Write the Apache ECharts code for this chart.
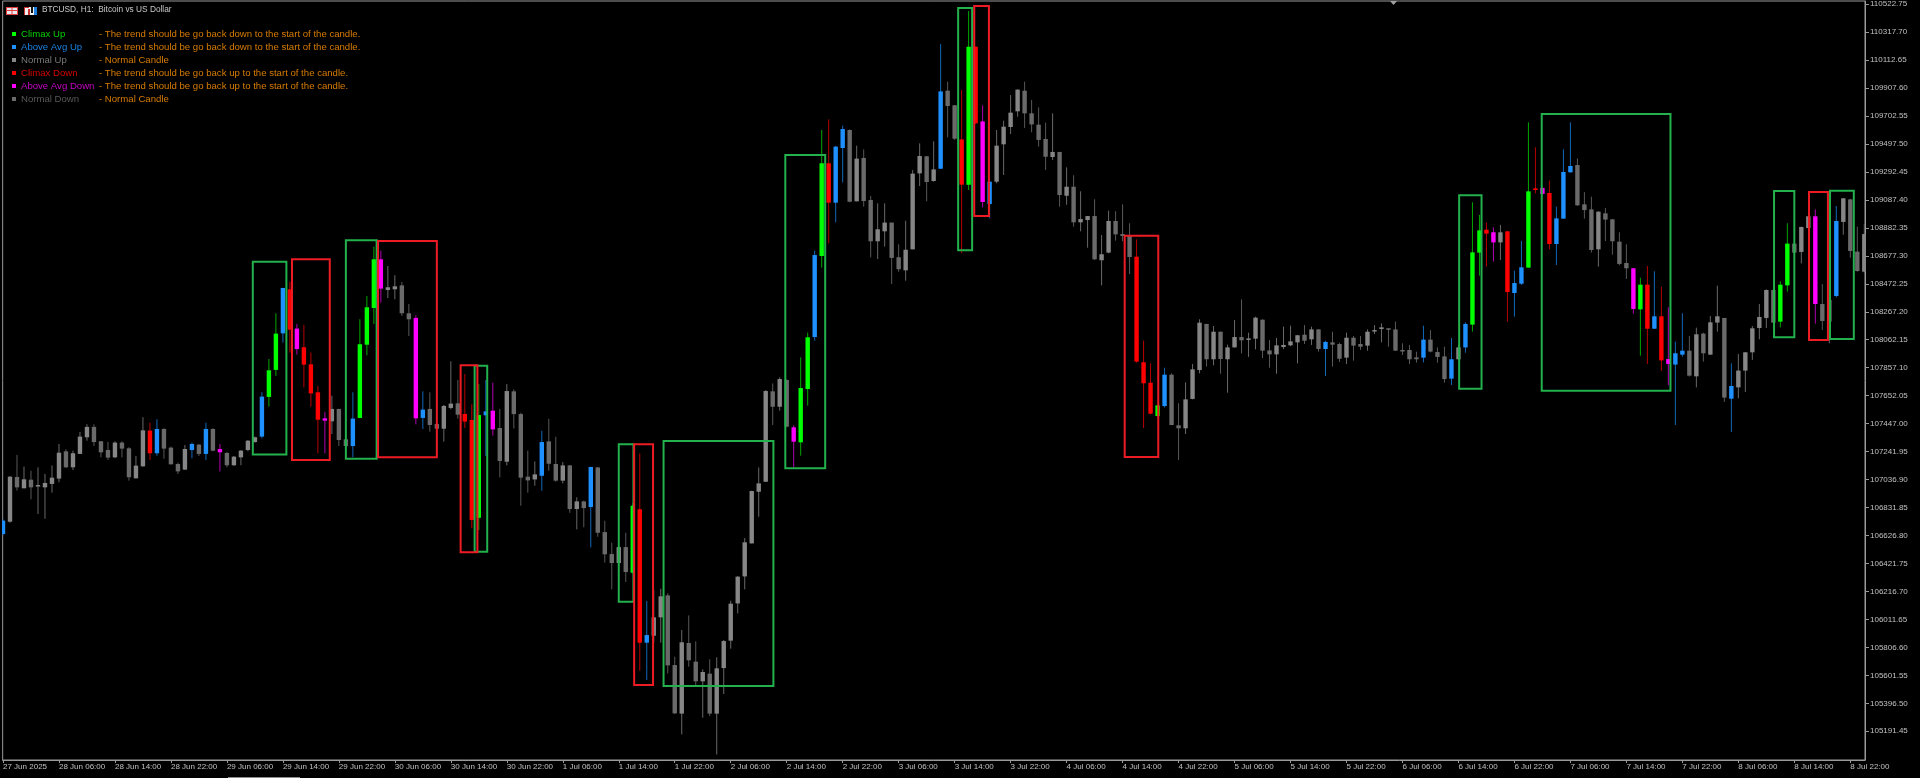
<!DOCTYPE html>
<html><head><meta charset="utf-8"><style>html,body{margin:0;padding:0;background:#000;overflow:hidden}#c{width:1920px;height:778px}</style>
<script src="https://cdn.jsdelivr.net/npm/echarts@6/dist/echarts.min.js"></script></head><body><div id="c"></div>
<script>
// rows: [bar, open, close, low, high]
const climaxUp=[[38,107643,107838,107572,107921],[39,107841,108107,107797,108256],[51,107489,108029,107486,108212],[52,108026,108300,107948,108383],[53,108295,108652,108178,108745],[68,106757,107510,106667,107737],[90,106354,106845,106349,106863],[114,107310,107708,107212,107933],[115,107701,108080,107579,108114],[117,108676,109356,108591,109600],[138,109199,110211,109160,110472],[165,107503,107581,107498,107586],[210,108173,108703,108122,109070],[211,108701,108864,108532,108977],[218,108591,109150,108591,109656],[234,108285,108466,107945,108517],[254,108195,108466,108153,108491],[255,108461,108767,108415,108916]];
const aboveAvgUp=[[0,106638,106736,106630,106745],[22,107230,107408,107212,107479],[27,107254,107298,107193,107308],[29,107225,107408,107181,107454],[37,107352,107645,107340,107677],[40,108109,108442,108041,108442],[50,107283,107484,107200,107677],[60,107489,107550,107408,107684],[69,107508,107537,107210,107767],[77,107065,107312,106955,107395],[84,106836,107129,106540,107131],[92,105841,105897,105567,106147],[116,108082,108683,108055,108715],[119,109067,109478,108923,109483],[120,109468,109607,109216,109632],[134,109316,109883,109314,110230],[141,109057,109221,108952,109221],[166,107576,107806,107566,107857],[189,107994,108046,107796,108055],[203,107931,108063,107896,108165],[207,107777,107919,107730,108075],[209,108006,108178,107967,108190],[216,108405,108478,108232,108569],[217,108473,108593,108464,108786],[222,108764,108952,108610,109038],[223,108950,109292,108950,109458],[224,109290,109336,109287,109656],[236,108143,108234,108141,108564],[239,107880,107963,107437,108048],[240,107953,107982,107938,108256],[247,107630,107723,107386,107889],[262,108383,108933,108373,109043]];
const normalUp=[[1,106728,107058,106721,107063],[3,106973,107039,106973,107132],[5,106990,106997,106785,107127],[6,106980,107012,106750,107078],[7,107005,107051,106941,107141],[8,107044,107234,107017,107298],[10,107127,107230,107107,107249],[11,107225,107352,107225,107386],[12,107347,107423,107322,107442],[16,107200,107308,107195,107318],[19,107046,107139,107046,107210],[20,107134,107398,107132,107494],[26,107110,107261,107107,107291],[33,107142,107205,107137,107210],[34,107200,107249,107142,107254],[35,107254,107322,107244,107327],[36,107312,107347,107308,107352],[47,107464,107555,107371,107652],[55,108427,108447,108368,108603],[56,108432,108454,108359,108535],[63,107410,107577,107315,107584],[64,107562,107594,107552,107904],[72,107168,107686,107141,107737],[76,107038,107075,106992,107170],[80,107029,107141,107009,107166],[82,106821,106877,106672,106907],[88,106425,106542,106423,106545],[93,105892,106027,105841,106227],[94,106027,106181,105841,106237],[97,105321,105844,105169,105934],[100,105558,105626,105291,105646],[102,105321,105653,105022,105734],[103,105655,105853,105465,105861],[104,105856,106127,105797,106149],[105,106129,106325,106056,106330],[106,106327,106577,106232,106608],[107,106569,106953,106569,106955],[108,106948,107009,106765,107126],[109,107021,107686,107019,107693],[111,107571,107774,107542,107786],[122,109077,109390,109077,109485],[125,108784,108872,108654,109062],[126,108857,108921,108745,109062],[129,108571,108722,108495,108935],[130,108725,109280,108725,109307],[131,109282,109409,109189,109502],[133,109226,109311,109221,109517],[142,109221,109485,109209,109600],[143,109495,109624,109270,109668],[144,109622,109727,109571,109856],[145,109737,109896,109698,109898],[150,109402,109439,109380,109722],[152,109118,109184,109052,109326],[154,108923,108947,108857,109150],[155,108940,108969,108737,108969],[157,108645,108689,108461,108830],[158,108701,108933,108696,109009],[169,107413,107625,107371,107750],[170,107628,107845,107625,107884],[171,107840,108187,107816,108212],[173,107919,108121,107875,108163],[175,107919,108006,107674,108026],[176,108006,108082,108006,108207],[178,108065,108072,107936,108114],[179,108070,108224,107992,108231],[182,107955,108021,107813,108075],[183,108009,108024,107994,108158],[184,108021,108050,108016,108165],[185,108043,108095,107889,108097],[187,108065,108138,108024,108158],[192,107931,108077,107884,108114],[195,108019,108121,107982,108138],[196,108124,108133,108104,108170],[197,108141,108153,108043,108182],[208,107919,108006,107914,108024],[214,108776,108850,108647,108904],[228,108725,109001,108598,109004],[242,107794,108102,107713,108151],[244,107953,108190,107950,108236],[245,108188,108234,108122,108459],[248,107713,107836,107633,107958],[249,107836,107970,107679,107972],[250,107970,108146,107914,108163],[251,108148,108229,108065,108324],[252,108222,108427,108148,108432],[257,108706,108889,108622,108891],[258,108881,108967,108879,108970],[261,108195,108354,108036,108488],[263,108926,109099,108832,109101],[266,108561,108837,108554,108911]];
const climaxDown=[[21,107396,107230,107181,107454],[41,108432,108136,107968,108488],[43,108007,107880,107713,108171],[44,107882,107669,107572,107968],[45,107677,107476,107230,107723],[66,107518,107462,107415,107811],[67,107474,106741,106680,107589],[91,106819,105841,105636,107229],[118,109356,109067,108769,109678],[137,109531,109199,108696,109893],[139,110211,109649,109644,110211],[162,108671,107902,107894,108798],[163,107897,107743,107415,108055],[164,107747,107520,107515,107889],[212,108869,108840,108598,108921],[215,108857,108412,108195,108860],[219,109172,109160,109136,109473],[221,109138,108764,108725,109229],[235,108466,108143,107884,108603],[237,108234,107911,107833,108451]];
const aboveAvgDown=[[31,107261,107237,107097,107298],[42,108144,107994,107953,108178],[46,107486,107469,107230,107533],[54,108652,108437,108334,108715],[59,108222,107486,107442,108241],[70,107542,107405,107359,107747],[113,107420,107315,107126,107435],[140,109663,109072,109033,109781],[213,108850,108776,108635,108886],[220,109175,109131,109126,109180],[233,108586,108288,108253,108588],[238,107921,107884,107728,108300],[259,108967,108324,108180,109018]];
const normalDown=[[2,107056,106980,106956,107217],[4,107036,106980,106892,107102],[9,107244,107127,107122,107259],[13,107423,107312,107283,107442],[14,107318,107237,107200,107320],[15,107254,107198,107181,107313],[17,107308,107264,107200,107318],[18,107266,107054,107029,107274],[23,107408,107264,107190,107413],[24,107271,107149,107147,107279],[25,107151,107097,107078,107161],[28,107293,107225,107210,107298],[30,107408,107249,107244,107413],[32,107232,107142,107127,107239],[48,107555,107327,107283,107555],[49,107332,107283,107278,107401],[57,108461,108256,108236,108486],[58,108256,108212,108090,108324],[61,107555,107437,107388,107677],[62,107445,107410,107405,107449],[65,107596,107513,107484,107767],[71,107415,107173,107053,107554],[73,107684,107517,107412,107698],[74,107517,107051,106845,107527],[75,107058,107031,106941,107249],[78,107317,107153,107102,107483],[79,107151,107029,107021,107351],[81,107141,106821,106794,107144],[83,106877,106828,106687,106882],[85,107126,106647,106618,107129],[86,106652,106489,106428,106735],[87,106491,106425,106232,106574],[89,106542,106359,106286,106647],[95,106188,105675,105616,106203],[96,105677,105323,105318,105738],[98,105839,105712,105665,106041],[99,105702,105558,105518,105851],[101,105614,105321,105303,105719],[110,107684,107571,107437,107742],[112,107767,107425,107420,107772],[121,109600,109074,109070,109605],[123,109395,109079,109038,109458],[124,109087,108784,108666,109116],[127,108921,108662,108471,108921],[128,108667,108579,108561,108762],[132,109407,109219,109077,109409],[135,109888,109776,109546,109954],[136,109781,109536,109527,109783],[146,109888,109722,109615,109954],[147,109722,109641,109583,109820],[148,109639,109527,109478,109766],[149,109534,109404,109307,109654],[151,109439,109123,109038,109439],[153,109184,108923,108891,109268],[156,108969,108652,108647,109092],[159,108933,108835,108789,109004],[160,108837,108823,108784,109055],[161,108823,108669,108544,108916],[167,107806,107437,107435,107816],[168,107435,107413,107181,107596],[172,108178,107919,107865,108178],[174,108121,107921,107813,108121],[177,108082,108058,107962,108358],[180,108209,107982,107928,108212],[181,107984,107955,107857,108060],[186,108099,108055,108031,108170],[188,108138,107994,107975,108141],[190,108043,108026,107865,108121],[191,108031,107923,107899,108041],[193,108077,108019,107909,108090],[194,108031,108011,107987,108090],[198,108146,108141,108011,108146],[199,108138,107982,107980,108195],[200,107987,107980,107950,108036],[201,107987,107919,107884,108024],[202,107933,107919,107894,107975],[204,108063,107975,107970,108133],[205,107972,107936,107894,108006],[206,107940,107774,107747,108011],[225,109343,109048,109043,109392],[226,109055,109013,108950,109145],[227,109018,108720,108701,109111],[229,108989,108943,108786,109028],[230,108945,108784,108686,108948],[231,108781,108618,108608,108850],[232,108625,108586,108508,108762],[241,107982,107799,107792,108090],[243,108107,107963,107902,108114],[246,108222,107638,107606,108222],[253,108427,108188,108183,108432],[256,108767,108701,108696,108769],[260,108324,108200,108134,108471],[264,109091,108713,108664,109096],[265,108708,108566,108561,108891]];
// rows: [fromBar, toBar, priceTop, priceBottom]
const greenBoxes=[[35.7,40.5,108634,107220],[49,53.4,108791,107190],[67.4,69.2,107872,106508],[88,90.1,107296,106142],[94.4,110.1,107320,105524],[111.8,117.5,109417,107120],[136.5,138.5,110494,108718],[208.1,211.3,109121,107703],[219.9,238.3,109717,107689],[253.1,256,109153,108080],[261.1,264.5,109155,108068]];
const redBoxes=[[41.3,46.7,108652,107181],[53.6,62,108786,107201],[65.4,67.8,107875,106504],[90.2,92.9,107296,105531],[138.8,140.9,110509,108969],[160.3,165.1,108825,107203],[258.1,260.8,109145,108060]];
const priceTicks=[110522.75,110317.70,110112.65,109907.60,109702.55,109497.50,109292.45,109087.40,108882.35,108677.30,108472.25,108267.20,108062.15,107857.10,107652.05,107447.00,107241.95,107036.90,106831.85,106626.80,106421.75,106216.70,106011.65,105806.60,105601.55,105396.50,105191.45];
const timeTickLabels=['27 Jun 2025','28 Jun 06:00','28 Jun 14:00','28 Jun 22:00','29 Jun 06:00','29 Jun 14:00','29 Jun 22:00','30 Jun 06:00','30 Jun 14:00','30 Jun 22:00','1 Jul 06:00','1 Jul 14:00','1 Jul 22:00','2 Jul 06:00','2 Jul 14:00','2 Jul 22:00','3 Jul 06:00','3 Jul 14:00','3 Jul 22:00','4 Jul 06:00','4 Jul 14:00','4 Jul 22:00','5 Jul 06:00','5 Jul 14:00','5 Jul 22:00','6 Jul 06:00','6 Jul 14:00','6 Jul 22:00','7 Jul 06:00','7 Jul 14:00','7 Jul 22:00','8 Jul 06:00','8 Jul 14:00','8 Jul 22:00'];
const barsPerTick=8;
const legendNames=['Climax Up','Above Avg Up','Normal Up','Climax Down','Above Avg Down','Normal Down'];
const legendNotes=['- The trend should be go back down to the start of the candle.','- The trend should be go back down to the start of the candle.','- Normal Candle','- The trend should be go back up to the start of the candle.','- The trend should be go back up to the start of the candle.','- Normal Candle'];

const FONT='"Liberation Sans",Arial,sans-serif';
const timeTickBars=timeTickLabels.map((_,i)=>i*barsPerTick);
function candleSeries(name,rows,color,wick){
  return {name,type:'custom',data:rows,clip:true,silent:true,z:2,itemStyle:{color},encode:{x:0,y:[1,2,3,4]},
    renderItem(p,api){
      const b=api.value(0),o=api.value(1),c=api.value(2),l=api.value(3),h=api.value(4);
      const t=api.coord([b,Math.max(o,c)]),d=api.coord([b,Math.min(o,c)]),hi=api.coord([b,h]),lo=api.coord([b,l]);
      return {type:'group',children:[
        {type:'line',shape:{x1:t[0],y1:hi[1],x2:t[0],y2:lo[1]},style:{stroke:wick,lineWidth:1}},
        {type:'rect',shape:{x:t[0]-2.2,y:t[1],width:4.4,height:Math.max(d[1]-t[1],1.5)},style:{fill:color}}
      ]};
    }};
}
function boxSeries(name,rows,color){
  return {name,type:'custom',data:rows,clip:false,silent:true,z:6,encode:{x:[0,1],y:[2,3]},
    renderItem(p,api){
      const a=api.coord([api.value(0),api.value(2)]),b=api.coord([api.value(1),api.value(3)]);
      return {type:'rect',shape:{x:a[0],y:a[1],width:b[0]-a[0],height:b[1]-a[1]},style:{fill:'transparent',stroke:color,lineWidth:2}};
    }};
}
const colors=['#00ff00','#1e90ff','#868686','#ff0000','#ff00ff','#6a6a6a'];
const textColors=['#00d000','#1a80e0','#787878','#d80000','#c800c8','#585858'];
const rows=[climaxUp,aboveAvgUp,normalUp,climaxDown,aboveAvgDown,normalDown];
const wicks=['#00a800','#1268b8','#686868','#b80000','#b000b0','#585858'];
const series=legendNames.map((n,i)=>candleSeries(n,rows[i],colors[i],wicks[i]));
series.push(boxSeries('Green zones',greenBoxes,'#22b14c'),boxSeries('Red zones',redBoxes,'#ed1c24'));
const notes=legendNotes.map((t,i)=>({type:'text',left:99,top:29+i*13,silent:true,style:{text:t,fill:'#d87c00',font:'9.6px '+FONT}}));
function icon(x,cells){return cells.map(c=>({type:'rect',silent:true,shape:{x:x+c[0],y:7+c[1],width:c[2],height:c[3]},style:{fill:c[4]}}));}
const chrome=[
  ...icon(6,[[0,0,12,8,'#e8e8f0'],[0,0,12,1,'#e04040'],[0,7,12,1,'#e04040'],[0,0,1,8,'#e04040'],[11,0,1,8,'#e04040'],[1,3,10,1,'#e04040'],[5.5,0,1,8,'#e04040']]),
  ...icon(24,[[0,0,13,8,'#f0f0f0'],[0,0,1,8,'#d03030'],[1,0,4,1,'#d03030'],[4,2,2,6,'#d03030'],[7,0,2,6,'#101010'],[10,0,3,8,'#2080e0']]),
  {type:'text',left:42,top:6,silent:true,style:{text:'BTCUSD, H1:  Bitcoin vs US Dollar',fill:'#c8c8c8',font:'8.3px '+FONT}},
  {type:'polygon',silent:true,shape:{points:[[1390,1],[1397,1],[1393.5,5]]},style:{fill:'#a0a0a0'}},
  {type:'rect',silent:true,shape:{x:228,y:777,width:72,height:1},style:{fill:'#8c8c8c'}},
  ...notes
];
const axisCol='#9a9a9a';
echarts.init(document.getElementById('c'),null,{renderer:'canvas'}).setOption({
  animation:false,backgroundColor:'#000',
  grid:{left:2,top:1,right:55,bottom:18,show:true,borderColor:axisCol,borderWidth:1,backgroundColor:'transparent'},
  legend:{show:true,left:12,top:29,padding:0,orient:'vertical',selectedMode:false,itemWidth:4,itemHeight:4,itemGap:3,align:'left',
    textStyle:{fontFamily:FONT,fontSize:9.6,lineHeight:10},
    data:legendNames.map((n,i)=>({name:n,icon:'rect',textStyle:{color:textColors[i]}}))},
  xAxis:{type:'value',min:-0.047,max:266.1,axisPointer:{show:false},
    axisLine:{show:true,onZero:false,lineStyle:{color:axisCol}},splitLine:{show:false},
    axisTick:{show:true,length:3,lineStyle:{color:axisCol},customValues:timeTickBars},
    axisLabel:{show:true,customValues:timeTickBars,align:'left',margin:3,color:'#c0c0c0',fontFamily:FONT,fontSize:8,hideOverlap:false,
      formatter:v=>timeTickLabels[Math.round(v/barsPerTick)]}},
  yAxis:{type:'value',position:'right',min:104981,max:110545.7,scale:true,
    axisLine:{show:true,onZero:false,lineStyle:{color:axisCol}},splitLine:{show:false},
    axisTick:{show:true,length:4,lineStyle:{color:axisCol},customValues:priceTicks},
    axisLabel:{show:true,customValues:priceTicks,margin:5,color:'#c0c0c0',fontFamily:FONT,fontSize:8,formatter:v=>v.toFixed(2)}},
  tooltip:{show:false},
  series,
  graphic:{elements:chrome}
});
</script></body></html>
